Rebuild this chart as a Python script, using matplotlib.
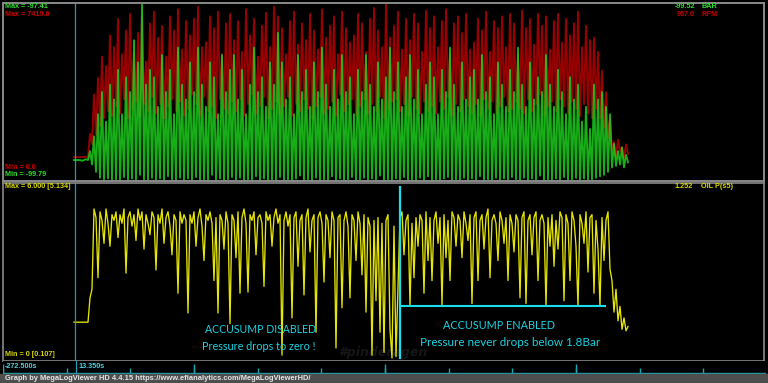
import matplotlib
matplotlib.use("Agg")
import numpy as np
import matplotlib.pyplot as plt

# ---- logged data (one sample every 8 s, first sample at 7.5 s) ----
log_start = 7.5
sample_dt = 8.0

# RPM: peaks / troughs of each cycle
rpm_peaks = [
    967, 970, 965, 980, 1950, 3600, 4300, 5200, 4800, 6100,
    5600, 6800, 5300, 6300, 7000, 5400, 6200, 6900, 5000, 6600,
    7100, 6000, 6500, 5200, 6900, 6300, 7200, 5500, 6700, 6100,
    6800, 7300, 5600, 5800, 6900, 6400, 7100, 5300, 6600, 7000,
    5900, 6700, 5400, 7200, 6100, 6800, 5200, 6500, 7050, 5600,
    7300, 6900, 6400, 5300, 6700, 7100, 5700, 6600, 5900, 7000,
    6300, 5500, 7200, 6000, 6500, 6900, 5300, 7100, 6400, 5800,
    6100, 7000, 6600, 5400, 6800, 7250, 6300, 5600, 7419, 6000,
    6500, 7100, 5500, 6800, 5900, 7000, 6600, 5400, 7150, 6400,
    6900, 5600, 6700, 7200, 5300, 6600, 6900, 6200, 7000, 5500,
    5800, 6800, 6300, 7100, 5400, 6700, 6400, 6900, 5600, 7000,
    6600, 5300, 7150, 6400, 6800, 5700, 7000, 6500, 6900, 5500,
    6700, 7000, 5800, 6800, 6100, 6600, 7100, 5600, 6500, 5900,
    6000, 5400, 4600, 3700, 2600, 1600, 1700, 1400, 1500]
rpm_troughs = [
    967, 968, 966, 970, 1500, 1900, 2300, 2600, 2900, 2700,
    3100, 2800, 3400, 2600, 3000, 3300, 2700, 3200, 2900, 3500,
    2800, 3200, 2600, 3100, 3400, 2900, 3300, 2700, 3000, 3600,
    3200, 2700, 3500, 2900, 3100, 2600, 3400, 3000, 2800, 3300,
    2900, 3400, 2700, 3200, 3600, 2800, 3100, 3500, 2600, 3000,
    3300, 2800, 3100, 3500, 2700, 3200, 2900, 3400, 3000, 2600,
    3100, 3500, 2800, 3000, 3300, 2700, 3600, 2900, 3200, 3400,
    2700, 3100, 3400, 2800, 3200, 2900, 3500, 2600, 3000, 3300,
    3400, 2900, 3200, 2700, 3500, 3000, 2800, 3300, 2900, 3100,
    2800, 3300, 3000, 3500, 2700, 3200, 2900, 3400, 3100, 2800,
    3200, 2700, 3400, 3000, 3300, 2800, 3100, 3500, 2900, 3000,
    3300, 3000, 2800, 3400, 2900, 3200, 3600, 2700, 3100, 3300,
    2900, 3400, 3100, 2800, 3300, 3000, 2700, 3200, 2800, 2600,
    3000, 2600, 2200, 1800, 1300, 1000, 1200, 900, 1100]

# BAR: peaks / troughs of each cycle
bar_peaks = [
    -99.52, -99.52, -99.53, -99.51, -99.40, -99.20, -98.90, -98.60, -99.00, -98.50,
    -98.70, -98.30, -98.90, -98.40, -98.60, -97.90, -98.20, -97.41, -98.50, -98.30,
    -98.40, -98.80, -98.10, -98.60, -98.30, -98.90, -98.00, -98.50, -98.70, -98.20,
    -98.60, -98.00, -98.50, -98.80, -98.20, -98.40, -98.90, -98.10, -98.60, -98.30,
    -98.10, -98.70, -98.30, -98.90, -98.50, -98.00, -98.60, -98.40, -98.80, -98.20,
    -98.50, -97.80, -98.20, -98.70, -98.40, -98.90, -98.10, -98.60, -98.30, -98.80,
    -98.20, -98.60, -98.00, -98.50, -98.80, -98.30, -98.70, -98.10, -98.60, -98.40,
    -98.90, -98.30, -98.60, -98.10, -98.50, -98.80, -98.20, -98.70, -98.40, -98.00,
    -98.60, -98.20, -98.80, -98.40, -98.10, -98.70, -98.30, -98.90, -98.50, -98.20,
    -98.40, -98.90, -98.30, -98.60, -98.00, -98.50, -98.80, -98.20, -98.70, -98.40,
    -98.30, -98.70, -98.10, -98.60, -98.40, -98.90, -98.20, -98.50, -98.80, -98.30,
    -98.60, -98.00, -98.50, -98.80, -98.20, -98.70, -98.40, -98.60, -98.10, -98.50,
    -98.80, -98.30, -98.60, -98.90, -98.40, -98.70, -98.50, -99.00, -98.80, -99.10,
    -98.50, -98.70, -98.60, -98.80, -98.90, -99.30, -99.40, -99.35, -99.45]
bar_troughs = [
    -99.52, -99.52, -99.52, -99.52, -99.58, -99.68, -99.76, -99.78, -99.77, -99.79,
    -99.78, -99.79, -99.75, -99.79, -99.77, -99.79, -99.72, -99.78, -99.79, -99.76,
    -99.79, -99.77, -99.79, -99.74, -99.78, -99.79, -99.76, -99.79, -99.77, -99.79,
    -99.75, -99.79, -99.78, -99.79, -99.72, -99.79, -99.77, -99.79, -99.78, -99.75,
    -99.79, -99.76, -99.79, -99.78, -99.79, -99.74, -99.79, -99.77, -99.79, -99.78,
    -99.79, -99.75, -99.79, -99.78, -99.79, -99.77, -99.73, -99.79, -99.78, -99.79,
    -99.76, -99.79, -99.78, -99.79, -99.74, -99.79, -99.77, -99.79, -99.78, -99.75,
    -99.79, -99.78, -99.76, -99.79, -99.77, -99.79, -99.73, -99.79, -99.78, -99.79,
    -99.77, -99.79, -99.75, -99.79, -99.78, -99.79, -99.76, -99.79, -99.74, -99.79,
    -99.78, -99.79, -99.77, -99.75, -99.79, -99.78, -99.79, -99.76, -99.79, -99.77,
    -99.79, -99.74, -99.79, -99.78, -99.79, -99.76, -99.79, -99.77, -99.79, -99.75,
    -99.78, -99.79, -99.76, -99.79, -99.77, -99.79, -99.73, -99.79, -99.78, -99.79,
    -99.77, -99.79, -99.75, -99.79, -99.78, -99.76, -99.79, -99.77, -99.79, -99.78,
    -99.76, -99.74, -99.72, -99.68, -99.62, -99.60, -99.58, -99.62, -99.55]

# oil pressure (bar)
oil_p = [
    1.25, 1.25, 1.25, 1.25, 1.25, 1.25, 1.25, 1.25, 2.1, 2.4,
    5.2, 4.9, 2.8, 5.1, 4.8, 4.0, 5.2, 4.7, 3.9, 5.0,
    4.8, 5.1, 4.2, 5.0, 4.7, 5.2, 2.96, 4.9, 5.1, 4.6,
    5.0, 4.1, 5.2, 4.8, 5.1, 3.8, 5.0, 4.7, 4.3, 5.1,
    4.9, 3.07, 5.0, 4.7, 5.2, 4.0, 4.9, 5.1, 4.6, 3.6,
    5.0, 4.8, 2.26, 5.1, 4.7, 5.0, 4.8, 1.57, 5.0, 4.7,
    5.1, 3.9, 4.9, 5.2, 4.6, 3.4, 5.0, 4.8, 5.1, 4.7,
    2.7, 4.9, 1.57, 5.0, 4.8, 3.8, 5.1, 4.7, 1.2, 5.0,
    4.8, 3.5, 5.1, 2.26, 4.9, 5.2, 4.7, 2.3, 5.0, 4.8,
    5.1, 3.6, 4.9, 5.0, 4.7, 2.5, 5.1, 4.8, 5.0, 3.9,
    4.9, 5.2, 4.7, 5.0, 0.1, 4.8, 5.1, 4.6, 5.0, 1.4,
    4.9, 5.1, 3.2, 4.8, 5.0, 2.2, 4.9, 5.2, 3.7, 4.8,
    5.0, 0.9, 4.9, 5.1, 4.7, 2.65, 5.0, 4.8, 3.5, 5.1,
    4.8, 0.35, 4.9, 5.0, 1.75, 4.8, 5.1, 4.6, 2.1, 5.0,
    4.8, 3.4, 5.1, 4.7, 2.9, 5.0, 1.6, 4.9, 4.6, 0.1,
    4.8, 2.0, 4.9, 0.9, 4.7, 0.2, 4.8, 5.0, 1.0, 0.0,
    4.6, 0.05, 2.5, 4.9, 5.1, 3.6, 4.8, 5.0, 1.8, 4.7,
    2.8, 4.9, 3.9, 5.0, 4.8, 2.26, 5.1, 3.4, 4.9, 2.7,
    4.8, 5.1, 4.0, 4.9, 1.85, 5.0, 3.5, 4.8, 2.7, 5.1,
    4.9, 3.9, 5.0, 4.8, 3.5, 5.1, 4.7, 4.1, 5.0, 1.9,
    4.9, 5.1, 2.7, 4.8, 5.0, 3.8, 4.9, 5.2, 2.8, 4.8,
    5.0, 4.7, 3.4, 5.1, 4.8, 4.0, 4.9, 2.7, 5.0, 4.7,
    3.7, 5.0, 4.8, 2.1, 4.9, 5.1, 1.9, 4.8, 5.0, 3.6,
    4.9, 5.1, 2.7, 4.8, 5.0, 4.7, 1.8, 4.9, 3.9, 5.0,
    3.2, 4.8, 3.8, 5.1, 4.9, 2.0, 5.0, 4.7, 2.7, 5.1,
    4.8, 3.9, 1.8, 5.0, 4.7, 4.0, 5.1, 3.0, 4.9, 5.0,
    2.26, 4.8, 3.8, 1.8, 4.9, 3.4, 4.8, 5.1, 3.1, 2.7,
    1.6, 2.4, 1.3, 1.8, 1.0, 1.4, 0.95, 1.1]

rpm_min, rpm_max = 0.0, 7419.0
bar_min, bar_max = -99.79, -97.41
oil_min, oil_max = 0.0, 6.0
view_start = -272.5     # s at left edge
cursor_t = 13.35        # s
accusump_on_t = 1311.5  # s
accusump_off_t = 2131.5
min_pressure = 1.8

# ---- interleave cycles into sample series ----
rpm = np.column_stack([rpm_peaks, rpm_troughs]).ravel()
bar = np.column_stack([bar_peaks, bar_troughs]).ravel()
t = log_start + sample_dt * np.arange(len(rpm))
t_oil = log_start + sample_dt * np.arange(len(oil_p))

W, H = 768, 383
SPP = 4.0  # seconds per pixel
fig = plt.figure(figsize=(W / 100, H / 100), dpi=100, facecolor='black')


def px_axes(x0, y0, x1, y1):
    a = fig.add_axes([x0 / W, 1 - y1 / H, (x1 - x0) / W, (y1 - y0) / H])
    a.set_facecolor('black')
    a.set_xticks([])
    a.set_yticks([])
    return a


def ftext(x, y, s, **kw):
    kw.setdefault('family', 'Liberation Sans')
    kw.setdefault('weight', 'bold')
    kw.setdefault('fontsize', 5.2)
    kw.setdefault('va', 'center')
    fig.text(x / W, 1 - y / H, s, **kw)


xlim = (view_start - SPP, view_start + 760 * SPP)
frame = '#8a8a8a'

# top panel: RPM + BAR
ax1 = px_axes(3, 3, 764, 181)
ax1.plot(t, rpm, color='#c00000', lw=1.35, alpha=0.8)
ax1.set_xlim(*xlim)
pad = (rpm_max - rpm_min) / 176
ax1.set_ylim(rpm_min - pad, rpm_max + pad)
ax1b = ax1.twinx()
ax1b.set_yticks([])
ax1b.plot(t, bar, color='#1fe01f', lw=1.35, alpha=0.78)
pad = (bar_max - bar_min) / 176
ax1b.set_ylim(bar_min - pad, bar_max + pad)
for a in (ax1, ax1b):
    for s in a.spines.values():
        s.set_color(frame)
        s.set_linewidth(1.2)

# bottom panel: oil pressure
ax2 = px_axes(3, 183, 764, 361)
ax2.plot(t_oil, oil_p, color='#e6e600', lw=0.95)
ax2.set_xlim(*xlim)
pad = (oil_max - oil_min) / 172
ax2.set_ylim(oil_min - 3 * pad, oil_max + 3 * pad)
for s in ax2.spines.values():
    s.set_color(frame)
    s.set_linewidth(1.2)
ax2.text(0.44, 0.03, '#pinderagen', transform=ax2.transAxes, color='#161616',
         fontsize=9, style='italic', weight='bold', zorder=0)
ax2.plot([accusump_on_t, accusump_on_t], [0.0, 5.95], color='#19dcec', lw=1.6)
ax2.plot([accusump_on_t, accusump_off_t], [min_pressure, min_pressure], color='#19dcec', lw=1.5)
cy = '#19d3e3'
ax2.text(752, 1.0, 'ACCUSUMP DISABLED', color=cy, ha='center', va='center',
         family='Lato', fontsize=7.6)
ax2.text(748, 0.4, 'Pressure drops to zero !', color=cy, ha='center', va='center',
         family='Lato', fontsize=7.8)
ax2.text(1708, 1.15, 'ACCUSUMP ENABLED', color=cy, ha='center', va='center',
         family='Lato', fontsize=7.8)
ax2.text(1752, 0.55, 'Pressure never drops below 1.8Bar', color=cy, ha='center', va='center',
         family='Lato', fontsize=8.4)

# time axis
ax3 = px_axes(3, 361, 766, 374)
ax3.set_xlim(*xlim)
ax3.set_ylim(0, 1)
for s in ax3.spines.values():
    s.set_visible(False)
ax3.axhline(0.1, color='#1aa5b5', lw=1.0)
major = np.arange(xlim[0], xlim[1] + 1, 762.0)
minor = np.arange(xlim[0], xlim[1] + 1, 254.0)
ax3.vlines(minor, 0.1, 0.45, color='#1aa5b5', lw=1.0)
ax3.vlines(major, 0.1, 0.75, color='#1aa5b5', lw=1.0)

# cursor line through all panels
for a, lo, hi in ((ax1, 0, 1), (ax2, 0, 1), (ax3, 0.1, 1)):
    a.axvline(cursor_t, ymin=lo, ymax=hi, color='#1a9fb0', lw=0.9)

# footer
fig.patches.append(plt.Rectangle((0, 0), 1, 9.5 / H, transform=fig.transFigure,
                                 color='#4e4e4e', zorder=0))
ftext(5, 378.5, 'Graph by MegaLogViewer HD 4.4.15 https://www.efianalytics.com/MegaLogViewerHD/',
      color='#e6e6e6', fontsize=5.4)

# labels
green, red, yellow = '#2fe02f', '#c80000', '#d8d800'
ftext(5, 6.5, 'Max = -97.41', color=green)
ftext(5, 14, 'Max = 7419.0', color=red)
ftext(5, 167.5, 'Min = 0.0', color=red)
ftext(5, 175, 'Min = -99.79', color=green)
ftext(695, 6.5, '-99.52', color=green, ha='right')
ftext(701, 6.5, 'BAR', color=green)
ftext(695, 14, '967.0', color=red, ha='right')
ftext(701, 14, 'RPM', color=red)
ftext(5, 186.5, 'Max = 6.000 [5.134]', color=yellow)
ftext(5, 355, 'Min = 0 [0.107]', color=yellow)
ftext(693, 186.5, '1.252', color=yellow, ha='right')
ftext(701, 186.5, 'OIL P(s5)', color=yellow)
ftext(5, 366, '-272.500s', color='#4fd0e0')
ftext(78, 366, '13.350s', color='#4fd0e0')

fig.savefig('out.png', dpi=100, facecolor='black')
